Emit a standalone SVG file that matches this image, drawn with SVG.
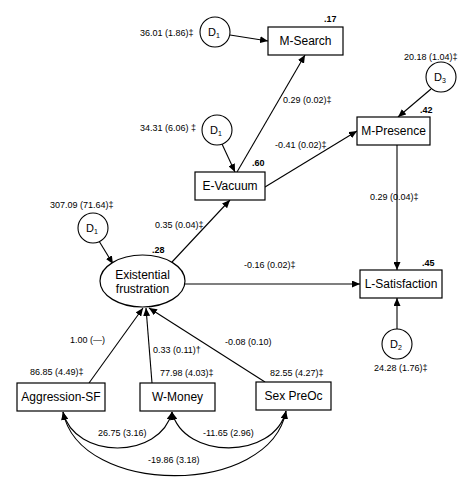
<svg xmlns="http://www.w3.org/2000/svg" width="474" height="491" viewBox="0 0 474 491">
<style>
.box{fill:#fff;stroke:#000;stroke-width:1.2}
.nl{font-family:"Liberation Sans",Arial,sans-serif;font-size:12px;fill:#000;text-anchor:middle}
.lb{font-family:"Liberation Sans",Arial,sans-serif;font-size:9px;fill:#000}
.r2{font-family:"Liberation Sans",Arial,sans-serif;font-size:9px;font-weight:bold;fill:#000}
.dl{font-family:"Liberation Sans",Arial,sans-serif;font-size:11px;fill:#000;text-anchor:middle}
.sub{font-size:7px}
.c{fill:none;stroke:#000;stroke-width:1.1}
</style>
<defs>
<marker id="ah" markerUnits="userSpaceOnUse" markerWidth="9" markerHeight="7" refX="8" refY="3.5" orient="auto-start-reverse">
<path d="M0,0 L8,3.5 L0,7 z" fill="#000"/>
</marker>
</defs>
<rect width="474" height="491" fill="#fff"/>
<g id="connectors">
<line class="c" x1="230" y1="35" x2="268" y2="41" marker-end="url(#ah)"/>
<line class="c" x1="237" y1="172" x2="305" y2="55" marker-end="url(#ah)"/>
<line class="c" x1="222" y1="144" x2="235" y2="172" marker-end="url(#ah)"/>
<line class="c" x1="265" y1="187" x2="357" y2="131" marker-end="url(#ah)"/>
<line class="c" x1="431" y1="89" x2="398" y2="117" marker-end="url(#ah)"/>
<line class="c" x1="397" y1="145" x2="397" y2="270" marker-end="url(#ah)"/>
<line class="c" x1="99" y1="241" x2="113" y2="264" marker-end="url(#ah)"/>
<line class="c" x1="172" y1="262" x2="230" y2="200" marker-end="url(#ah)"/>
<line class="c" x1="185" y1="284" x2="360" y2="284" marker-end="url(#ah)"/>
<line class="c" x1="397" y1="329" x2="397" y2="298" marker-end="url(#ah)"/>
<line class="c" x1="89" y1="383" x2="143" y2="308" marker-end="url(#ah)"/>
<line class="c" x1="152" y1="383" x2="146" y2="308" marker-end="url(#ah)"/>
<line class="c" x1="265" y1="382" x2="149" y2="308" marker-end="url(#ah)"/>
<path class="c" d="M63,412 C75,460 160,460 172,412" marker-start="url(#ah)" marker-end="url(#ah)"/>
<path class="c" d="M172,412 C184,460 274,460 286,411" marker-start="url(#ah)" marker-end="url(#ah)"/>
<path class="c" d="M63,412 C80,497 270,497 286,411" marker-start="url(#ah)" marker-end="url(#ah)"/>
<text class="lb" x="283" y="103">0.29 (0.02)‡</text>
<text class="lb" x="275" y="148">-0.41 (0.02)‡</text>
<text class="lb" x="370" y="200">0.29 (0.04)‡</text>
<text class="lb" x="155" y="228">0.35 (0.04)‡</text>
<text class="lb" x="244" y="268">-0.16 (0.02)‡</text>
<text class="lb" x="70" y="343">1.00 (—)</text>
<text class="lb" x="153" y="353">0.33 (0.11)†</text>
<text class="lb" x="225" y="345">-0.08 (0.10)</text>
<text class="lb" x="98" y="436">26.75 (3.16)</text>
<text class="lb" x="203" y="436">-11.65 (2.96)</text>
<text class="lb" x="148" y="463">-19.86 (3.18)</text>
</g>
<g id="d1-top">
<circle cx="215" cy="32" r="15" fill="#fff" stroke="#000" stroke-width="1.1"/>
<text class="dl" x="214" y="36">D<tspan class="sub" dy="2">1</tspan></text>
<text class="lb" x="140" y="36">36.01 (1.86)‡</text>
</g>
<g id="m-search">
<rect class="box" x="268" y="27" width="75" height="28"/>
<text class="nl" x="305.5" y="45">M-Search</text>
<text class="r2" x="324" y="22">.17</text>
</g>
<g id="d3">
<circle cx="441" cy="77" r="15" fill="#fff" stroke="#000" stroke-width="1.1"/>
<text class="dl" x="440" y="81">D<tspan class="sub" dy="2">3</tspan></text>
<text class="lb" x="404" y="60">20.18 (1.04)‡</text>
</g>
<g id="m-presence">
<rect class="box" x="357" y="117" width="73" height="28"/>
<text class="nl" x="393.5" y="135">M-Presence</text>
<text class="r2" x="420" y="113">.42</text>
</g>
<g id="d1-mid">
<circle cx="217" cy="130" r="15" fill="#fff" stroke="#000" stroke-width="1.1"/>
<text class="dl" x="216" y="134">D<tspan class="sub" dy="2">1</tspan></text>
<text class="lb" x="140" y="131">34.31 (6.06) ‡</text>
</g>
<g id="e-vacuum">
<rect class="box" x="195" y="172" width="70" height="28"/>
<text class="nl" x="230" y="190">E-Vacuum</text>
<text class="r2" x="252" y="166">.60</text>
</g>
<g id="d1-low">
<circle cx="93" cy="228" r="15" fill="#fff" stroke="#000" stroke-width="1.1"/>
<text class="dl" x="92" y="232">D<tspan class="sub" dy="2">1</tspan></text>
<text class="lb" x="50" y="208">307.09 (71.64)‡</text>
</g>
<g id="existential-frustration">
<ellipse cx="142.5" cy="281" rx="42.5" ry="26" fill="#fff" stroke="#000" stroke-width="1.2"/>
<text class="nl" x="142.5" y="279">Existential</text>
<text class="nl" x="142.5" y="293">frustration</text>
<text class="r2" x="152" y="253">.28</text>
</g>
<g id="l-satisfaction">
<rect class="box" x="360" y="270" width="82" height="28"/>
<text class="nl" x="401" y="288">L-Satisfaction</text>
<text class="r2" x="422" y="266">.45</text>
</g>
<g id="d2">
<circle cx="397" cy="344" r="15" fill="#fff" stroke="#000" stroke-width="1.1"/>
<text class="dl" x="396" y="348">D<tspan class="sub" dy="2">2</tspan></text>
<text class="lb" x="374" y="371">24.28 (1.76)‡</text>
</g>
<g id="aggression-sf">
<rect class="box" x="17" y="383" width="88" height="28"/>
<text class="nl" x="61" y="401">Aggression-SF</text>
<text class="lb" x="30" y="375">86.85 (4.49)‡</text>
</g>
<g id="w-money">
<rect class="box" x="140" y="383" width="75" height="28"/>
<text class="nl" x="177.5" y="401">W-Money</text>
<text class="lb" x="160" y="376">77.98 (4.03)‡</text>
</g>
<g id="sex-preoc">
<rect class="box" x="256" y="382" width="75" height="28"/>
<text class="nl" x="293.5" y="400">Sex PreOc</text>
<text class="lb" x="270" y="376">82.55 (4.27)‡</text>
</g>
</svg>
